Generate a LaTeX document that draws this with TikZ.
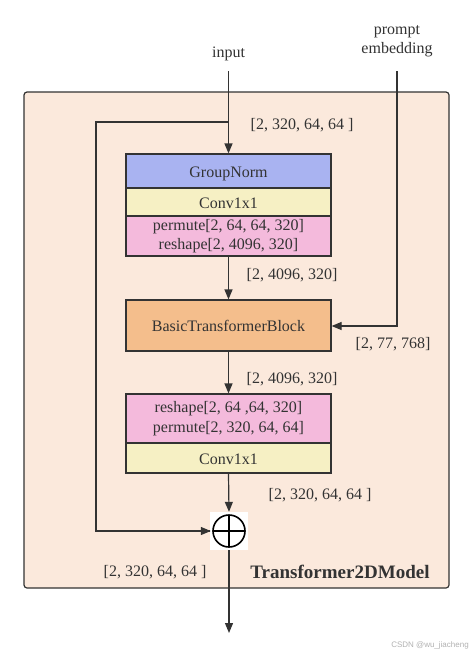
\documentclass[tikz,border=0pt]{standalone}
\usepackage{fontspec}
\setmainfont{Liberation Serif}
\newfontfamily\wmfont{Liberation Sans}
\usetikzlibrary{arrows.meta}
\definecolor{outerfill}{HTML}{FBE9DC}
\definecolor{gnfill}{HTML}{A9B3F1}
\definecolor{convfill}{HTML}{F6F0C4}
\definecolor{pinkfill}{HTML}{F4BADC}
\definecolor{btbfill}{HTML}{F4BE8C}
\definecolor{ink}{HTML}{333333}
\begin{document}
\begin{tikzpicture}[x=1pt,y=-1pt,
  lbl/.style={font=\fontsize{16}{19}\selectfont, text=ink, inner sep=0pt},
  blk/.style={draw=ink, line width=1.2pt, minimum width=205pt, inner sep=0pt, font=\fontsize{16}{19}\selectfont, text=ink, align=center},
  oneline/.style={text height=14pt, text depth=2pt},
  conn/.style={draw=ink, line width=1.2pt},
  arr/.style={conn, -{Triangle[length=10pt,width=8pt]}}]
\useasboundingbox (0,0) rectangle (474,653);
\fill[white] (0,0) rectangle (474,653);
\draw[ink, fill=outerfill, line width=1.2pt, rounded corners=3pt] (24,92) rectangle (449,588);
% blocks
\node[blk, oneline, fill=gnfill, minimum height=34pt] (gn) at (228.5,171) {GroupNorm};
\node[blk, oneline, fill=convfill, minimum height=28pt] (conv1) at (228.5,202) {Conv1x1};
\node[blk, fill=pinkfill, minimum height=40pt] (perm1) at (228.5,236) {permute[2, 64, 64, 320]\\[0pt]reshape[2, 4096, 320]};
\node[blk, oneline, fill=btbfill, minimum height=51pt] (btb) at (228.5,325.5) {BasicTransformerBlock};
\node[blk, fill=pinkfill, minimum height=49pt] (perm2) at (228.5,418.5) {reshape[2, 64 ,64, 320]\\[1pt]permute[2, 320, 64, 64]};
\node[blk, oneline, fill=convfill, minimum height=30pt] (conv2) at (228.5,458) {Conv1x1};
% plus node
\node[fill=white, minimum width=38pt, minimum height=38pt, inner sep=0pt] (plus) at (229,531) {};
\draw[black, line width=1.6pt] (plus.center) circle (16pt);
\draw[black, line width=1.6pt] ([xshift=-16pt]plus.center) -- ([xshift=16pt]plus.center);
\draw[black, line width=1.6pt] ([yshift=-16pt]plus.center) -- ([yshift=16pt]plus.center);
% labels
\node[lbl] (inl) at (228.5,54) {input};
\node[lbl, align=center] (pel) at (397,41) {prompt\\embedding};
\node[lbl] at (302,125) {[2, 320, 64, 64 ]};
\node[lbl] at (292,275) {[2, 4096, 320]};
\node[lbl] at (393,344) {[2, 77, 768]};
\node[lbl] at (292,379) {[2, 4096, 320]};
\node[lbl] at (320,495) {[2, 320, 64, 64 ]};
\node[lbl] at (155,572) {[2, 320, 64, 64 ]};
\node[lbl, font=\fontsize{19}{22}\selectfont\bfseries] at (340,572) {Transformer2DModel};
\node[font=\wmfont\fontsize{8}{9}\selectfont, text=gray!60] at (430,645) {CSDN @wu\_jiacheng};
% coordinates
\coordinate (inTop) at (228.5,71);
\coordinate (split) at (228.5,122);
\coordinate (skipL) at (96,122);
\coordinate (skipB) at (96,531);
\coordinate (peTop) at (397,71);
\coordinate (peTurn) at (397,326);
\coordinate (outEnd) at (229,633);
% connectors
\draw[arr] (inTop) -- (gn.north);
\draw[conn] (split) -- (skipL) -- (skipB) -- (plus.west);
\draw[arr] (skipL |- skipB) -- ([xshift=1pt]plus.west);
\draw[arr] (perm1.south) -- (btb.north);
\draw[arr] (peTop) -- (peTurn) -- (btb.east |- peTurn);
\draw[arr] (btb.south) -- (perm2.north);
\draw[arr] (conv2.south) -- (plus.north);
\draw[arr] (plus.south) -- (outEnd);
\end{tikzpicture}
\end{document}
